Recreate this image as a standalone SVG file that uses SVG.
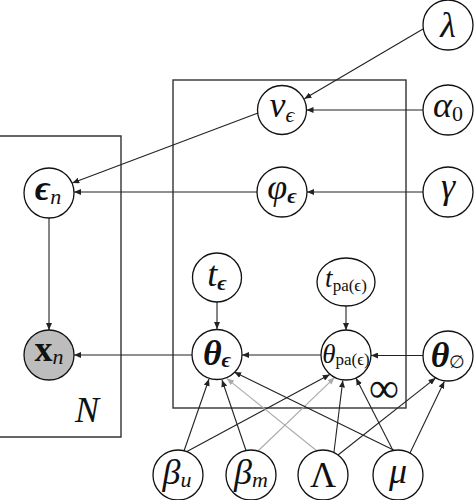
<svg xmlns="http://www.w3.org/2000/svg" width="474" height="500" viewBox="0 0 474 500">
<style>
.n{fill:#fff;stroke:#111;stroke-width:1.3}
.obs{fill:#bdbdbd}
.e{stroke:#222;stroke-width:1.1;fill:none;marker-end:url(#ah)}
.el{stroke:#aaa;stroke-width:1.1;fill:none;marker-end:url(#ahl)}
.plate{fill:none;stroke:#333;stroke-width:1.4}
text{font-family:"Liberation Serif","DejaVu Serif",serif;fill:#111;text-anchor:middle}
.m{font-size:36px;font-style:italic}
.s{font-size:22px;font-style:italic}
.b{font-weight:bold}
.u{font-style:normal}
.sm{font-size:27px;font-style:italic}
.ss{font-size:17px;font-style:normal}
</style>
<defs>
<marker id="ah" markerUnits="userSpaceOnUse" markerWidth="8" markerHeight="6" refX="7" refY="3" orient="auto"><path d="M0,0 L7,3 L0,6 z" fill="#222"/></marker>
<marker id="ahl" markerUnits="userSpaceOnUse" markerWidth="8" markerHeight="6" refX="7" refY="3" orient="auto"><path d="M0,0 L7,3 L0,6 z" fill="#aaa"/></marker>
</defs>
<g id="plates">
<path class="plate" d="M-2,136 H121 V437 H-2" stroke="#444"/>
<rect class="plate" x="173" y="80" width="233" height="328"/>
<text x="87" y="422" class="m" font-size="34">N</text>
<text x="384" y="402" style="font-size:42px">∞</text>
</g>
<g id="connectors">
<line class="e" x1="423" y1="29" x2="304.4" y2="98.7"/>
<line class="e" x1="423" y1="110" x2="306.5" y2="110"/>
<line class="e" x1="258" y1="113" x2="72.3" y2="183"/>
<line class="e" x1="423" y1="192" x2="307" y2="192"/>
<line class="e" x1="257" y1="192" x2="74" y2="192"/>
<line class="e" x1="49" y1="218" x2="49" y2="330"/>
<line class="e" x1="217" y1="302" x2="217" y2="329"/>
<line class="e" x1="346" y1="306" x2="346" y2="330"/>
<line class="e" x1="423" y1="355.5" x2="371" y2="355.5"/>
<line class="e" x1="321" y1="355" x2="242" y2="355"/>
<line class="e" x1="192" y1="355" x2="74" y2="355"/>
<line class="e" x1="184" y1="451" x2="209" y2="379"/>
<line class="e" x1="186" y1="452" x2="329.8" y2="374.6"/>
<line class="e" x1="246" y1="450.5" x2="222" y2="380"/>
<line class="el" x1="258" y1="451" x2="334.5" y2="377.6"/>
<line class="el" x1="317" y1="451" x2="227" y2="378.6"/>
<line class="e" x1="334" y1="452" x2="342.8" y2="380.4"/>
<line class="e" x1="338" y1="455" x2="435.5" y2="378.1"/>
<line class="e" x1="394" y1="450.3" x2="234.2" y2="372.1"/>
<line class="e" x1="393" y1="450.5" x2="356.1" y2="378.3"/>
<line class="e" x1="410" y1="453" x2="444.3" y2="381.4"/>
</g>
<g id="lambda"><circle class="n" cx="448" cy="25" r="25"/><text x="448" y="37" class="m">λ</text></g>
<g id="nu_eps"><circle class="n" cx="282" cy="110" r="24.5"/><text x="282" y="117" class="m">ν<tspan class="s" dy="5">ϵ</tspan></text></g>
<g id="alpha0"><circle class="n" cx="448" cy="110" r="25"/><text x="448" y="117" class="m">α<tspan class="s u" dy="4">0</tspan></text></g>
<g id="eps_n"><circle class="n" cx="49" cy="193" r="25"/><text x="48" y="200" class="m b">ϵ<tspan class="s" font-weight="normal" dy="4">n</tspan></text></g>
<g id="phi_eps"><circle class="n" cx="282" cy="192" r="25"/><text x="282" y="199" class="m">φ<tspan class="s b" dy="4">ϵ</tspan></text></g>
<g id="gamma"><circle class="n" cx="448" cy="192" r="25"/><text x="448" y="198" class="m">γ</text></g>
<g id="t_eps"><circle class="n" cx="217" cy="277.5" r="24.5"/><text x="217" y="286" class="m">t<tspan class="s b" dy="4">ϵ</tspan></text></g>
<g id="t_pa"><ellipse class="n" cx="346" cy="282" rx="29" ry="24"/><text x="346" y="287" class="sm">t<tspan class="ss" dy="4">pa(ϵ)</tspan></text></g>
<g id="x_n"><circle class="n obs" cx="49" cy="355" r="25"/><text x="49" y="361" class="m b u" font-size="34">x<tspan class="s" font-weight="normal" dy="3">n</tspan></text></g>
<g id="theta_eps"><circle class="n" cx="217" cy="354.5" r="25"/><text x="217" y="365" class="m b">θ<tspan class="s" dy="2">ϵ</tspan></text></g>
<g id="theta_pa"><circle class="n" cx="346" cy="355" r="25"/><text x="346" y="363" class="sm">θ<tspan class="ss" dy="2">pa(ϵ)</tspan></text></g>
<g id="theta_empty"><circle class="n" cx="448" cy="356" r="25"/><text x="448" y="367" class="m b">θ<tspan class="u" font-weight="normal" font-size="18" dy="1">∅</tspan></text></g>
<g id="beta_u"><circle class="n" cx="178" cy="475" r="25"/><text x="177" y="484" class="m">β<tspan class="s" dy="3">u</tspan></text></g>
<g id="beta_m"><circle class="n" cx="251" cy="475" r="25"/><text x="251" y="484" class="m">β<tspan class="s" dy="3">m</tspan></text></g>
<g id="Lambda"><circle class="n" cx="323" cy="475" r="25"/><text x="323" y="487" class="m u">Λ</text></g>
<g id="mu"><circle class="n" cx="398" cy="475" r="25"/><text x="398" y="483" class="m">μ</text></g>
</svg>
